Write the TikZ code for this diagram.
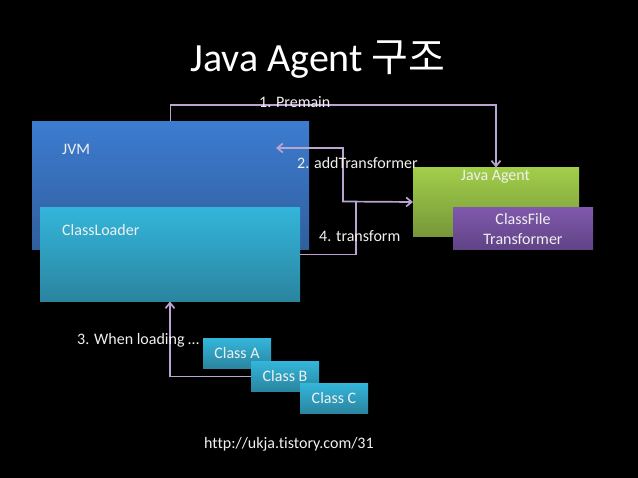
\documentclass[tikz,border=0pt]{standalone}
\usepackage{fontspec}
\setmainfont{Carlito}[Ligatures=NoCommon]
\newfontfamily\cjk{Noto Sans CJK KR}
\usetikzlibrary{arrows.meta,calc}
\definecolor{conn}{HTML}{B9A5D0}
\definecolor{txt}{HTML}{F0F0F0}
\tikzset{
  x=1pt,y=-1pt,
  box/.style={anchor=north west,inner sep=0pt,outer sep=0pt},
  lbl/.style={text=txt,font=\fontsize{16}{19}\selectfont,inner sep=0pt},
  conline/.style={draw=conn,line width=1.7pt},
  tip/.tip={Straight Barb[length=5.5pt,width=9pt]},
  jvmbox/.style={box,minimum width=277pt,minimum height=128pt,top color=jvmtop,bottom color=jvmbot,middle color=jvmmid},
  clbox/.style={box,minimum width=260pt,minimum height=94pt,top color=cltop,bottom color=clbot,middle color=clmid},
  agbox/.style={box,minimum width=166pt,minimum height=69pt,top color=agtop,bottom color=agbot,middle color=agmid},
  cftbox/.style={box,minimum width=140pt,minimum height=42pt,top color=cfttop,bottom color=cftbot,middle color=cftmid},
  classbox/.style={box,minimum width=68pt,minimum height=30pt,top color=cltop,bottom color=clbot,middle color=clmid},
}
\definecolor{jvmtop}{HTML}{3C7CD0}\definecolor{jvmmid}{HTML}{376DB7}\definecolor{jvmbot}{HTML}{305F9C}
\definecolor{cltop}{HTML}{33B5DA}\definecolor{clmid}{HTML}{2F9DBD}\definecolor{clbot}{HTML}{2A849E}
\definecolor{agtop}{HTML}{A2CE4A}\definecolor{agmid}{HTML}{8CB342}\definecolor{agbot}{HTML}{76973A}
\definecolor{cfttop}{HTML}{8058AC}\definecolor{cftmid}{HTML}{704E99}\definecolor{cftbot}{HTML}{5F4386}
\begin{document}
\begin{tikzpicture}
\useasboundingbox (0,0) rectangle (638,478);
\fill[black] (0,0) rectangle (638,478);
\node[text=white,font=\fontsize{40}{46}\selectfont,inner sep=0pt] (title) at (318,60) {Java Agent {\cjk\fontsize{40}{46}\selectfont 구조}};
\node[jvmbox] (jvm) at (32,121.5) {};
\node[agbox] (agent) at (413,167.5) {};
\coordinate (hand) at (276,148);
\coordinate (bend) at (343,201.5);
\coordinate (join) at (356,201.5);
\draw[conline,{tip}-{tip}] (hand) -| (bend) -- (agent.west);
\draw[conline,-{tip}] (jvm.north) -- ($(jvm.north)+(0,-16.5)$) -| (agent.north);
\node[clbox] (cl) at (40,207.5) {};
\node[cftbox] (cft) at (453,207.5) {};
\node[classbox] (ca) at (203,338.5) {};
\node[classbox] (cb) at (251,361.5) {};
\node[classbox] (cc) at (300,383.5) {};
\draw[conline] (cl.east) -| (join);
\draw[conline,-{tip}] (cb.west) -| (cl.south);
\node[lbl,anchor=west] (l1) at (259,102) {1. Premain};
\node[lbl,anchor=west] (ljvm) at (62,149) {JVM};
\node[lbl,anchor=west] (l2) at (297,163) {2. addTransformer};
\node[lbl] (lag) at (495.5,176.5) {Java Agent};
\node[lbl,anchor=west] (lcl) at (62,230) {ClassLoader};
\node[lbl,anchor=west] (l4) at (319,236) {4. transform};
\node[lbl,align=center,font=\fontsize{16}{20}\selectfont] (lcft) at (523,229) {ClassFile\\Transformer};
\node[lbl,anchor=west] (l3) at (77,340) {3. When loading …};
\node[lbl] (lca) at (237,353.5) {Class A};
\node[lbl] (lcb) at (285,376.5) {Class B};
\node[lbl] (lcc) at (334,398.5) {Class C};
\node[lbl,anchor=west] (url) at (204,444.5) {http://ukja.tistory.com/31};
\end{tikzpicture}
\end{document}
